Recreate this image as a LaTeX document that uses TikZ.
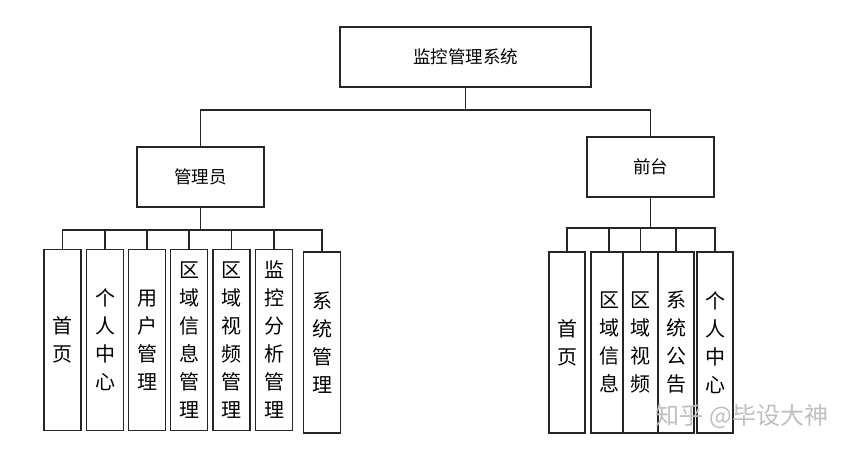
\documentclass[tikz,border=0pt]{standalone}
\usepackage{fontspec}
\setmainfont{Noto Sans CJK SC}
\usepackage{tikz}
\usepackage{xcolor}

\begin{document}
\begin{tikzpicture}[x=1pt,y=-1pt,
		line/.style={draw=black!85,line width=1.5pt},
		topbox/.style={line,fill=white,inner sep=0pt,minimum height=60pt,font=\fontsize{17.5}{20}\selectfont},
		leafbox/.style={line,fill=white,inner sep=0pt,minimum width=36pt,minimum height=181pt,align=center,font=\fontsize{20}{28}\selectfont}]
			\useasboundingbox (0,0) rectangle (856,451);
			\node[topbox,minimum width=251pt] (sys) at (465.5,57) {监控管理系统};
			\node[topbox,minimum width=127pt] (adm) at (200.5,177) {管理员};
			\node[topbox,minimum width=127pt] (qt) at (650.5,167) {前台};
			\draw[line] (sys.south) -- ++(0,22) -| (adm.north);
			\draw[line] (sys.south) -- ++(0,22) -| (qt.north);
			\node[leafbox,minimum width=37pt] (a1) at (62.5,340) {首\\页};
			\node[leafbox,minimum width=37pt] (a2) at (105,340) {个\\人\\中\\心};
			\node[leafbox,minimum width=37pt] (a3) at (147,340) {用\\户\\管\\理};
			\node[leafbox,minimum width=37pt] (a4) at (189,340) {区\\域\\信\\息\\管\\理};
			\node[leafbox,minimum width=37pt] (a5) at (231.5,340) {区\\域\\视\\频\\管\\理};
			\node[leafbox,minimum width=37pt] (a6) at (274,340) {监\\控\\分\\析\\管\\理};
			\node[leafbox,minimum width=37pt] (a7) at (322,342.5) {系\\统\\管\\理};
			\foreach \n in {a1,a2,a3,a4,a5,a6,a7}
				\draw[line] (adm.south) -- ++(0,22) -| (\n.north);
			\node[leafbox] (q1) at (567,342.5) {首\\页};
			\node[leafbox] (q2) at (609,342.5) {区\\域\\信\\息};
			\node[leafbox,minimum width=35pt] (q3) at (640.5,342.5) {区\\域\\视\\频};
			\node[leafbox] (q4) at (676,342.5) {系\\统\\公\\告};
			\node[leafbox] (q5) at (715,342.5) {个\\人\\中\\心};
			\foreach \n in {q1,q2,q3,q4,q5}
				\draw[line] (qt.south) -- ++(0,30) -| (\n.north);
			\node[text=black!25,font=\fontsize{24}{24}\selectfont] (wm) at (742,416) {知乎 @毕设大神};
		\end{tikzpicture}
\end{document}
